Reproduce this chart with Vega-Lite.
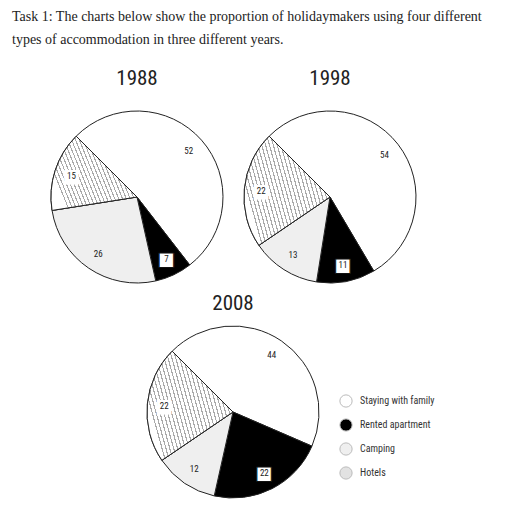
{
  "$schema": "https://vega.github.io/schema/vega-lite/v6.json",
  "padding": {"left": 12, "top": 10, "right": 5, "bottom": 0},
  "title": {
    "text": ["Task 1: The charts below show the proportion of holidaymakers using four different", "types of accommodation in three different years."],
    "anchor": "start",
    "font": "Liberation Serif",
    "fontSize": 14,
    "fontWeight": "normal",
    "lineHeight": 23,
    "color": "#222",
    "offset": 21
  },
  "datasets": {
    "kinds": [
      {"type": "Staying with family", "pos": 1},
      {"type": "Rented apartment", "pos": 2},
      {"type": "Camping", "pos": 3},
      {"type": "Hotels", "pos": 4}
    ]
  },
  "data": {
    "values": [
      {"year": "1988", "type": "Staying with family", "share": 52},
      {"year": "1988", "type": "Rented apartment", "share": 7},
      {"year": "1988", "type": "Camping", "share": 26},
      {"year": "1988", "type": "Hotels", "share": 15},
      {"year": "1998", "type": "Staying with family", "share": 54},
      {"year": "1998", "type": "Rented apartment", "share": 11},
      {"year": "1998", "type": "Camping", "share": 13},
      {"year": "1998", "type": "Hotels", "share": 22},
      {"year": "2008", "type": "Staying with family", "share": 44},
      {"year": "2008", "type": "Rented apartment", "share": 22},
      {"year": "2008", "type": "Camping", "share": 12},
      {"year": "2008", "type": "Hotels", "share": 22}
    ]
  },
  "transform": [
    {"lookup": "type", "from": {"data": {"name": "kinds"}, "key": "type", "fields": ["pos"]}}
  ],
  "vconcat": [
    {
      "spacing": 0,
      "bounds": "flush",
      "hconcat": [
        {
          "width": 250,
          "height": 170,
          "title": "1988",
          "transform": [{"filter": "datum.year == '1988'"}],
          "encoding": {
            "theta": {"field": "share", "type": "quantitative", "stack": true, "scale": {"domain": [0, 100], "range": [-0.7854, 5.4978]}},
            "order": {"field": "pos", "type": "quantitative"},
            "detail": {"field": "type", "type": "nominal"}
          },
          "layer": [
            {
              "mark": {"type": "arc", "outerRadius": 86, "stroke": "#222", "strokeWidth": 1},
              "encoding": {
                "color": {"field": "type", "type": "nominal", "title": null, "sort": ["Staying with family", "Rented apartment", "Camping", "Hotels"], "scale": {"domain": ["Staying with family", "Rented apartment", "Camping", "Hotels"], "range": ["#ffffff", "#000000", "#efefef", "#e2e2e2"]}}
              }
            },
            {
              "mark": {
                "type": "arc", "outerRadius": 86, "stroke": "#222", "strokeWidth": 1,
                "fill": {"gradient": "linear", "x1": 0, "y1": 0.5, "x2": 1, "y2": 0.15, "stops": [
                  {"offset": 0, "color": "#fff"}, {"offset": 0.028, "color": "#fff"}, {"offset": 0.028, "color": "#aaa"}, {"offset": 0.04, "color": "#aaa"},
                  {"offset": 0.04, "color": "#fff"}, {"offset": 0.068, "color": "#fff"}, {"offset": 0.068, "color": "#aaa"}, {"offset": 0.08, "color": "#aaa"},
                  {"offset": 0.08, "color": "#fff"}, {"offset": 0.108, "color": "#fff"}, {"offset": 0.108, "color": "#aaa"}, {"offset": 0.12, "color": "#aaa"},
                  {"offset": 0.12, "color": "#fff"}, {"offset": 0.148, "color": "#fff"}, {"offset": 0.148, "color": "#aaa"}, {"offset": 0.16, "color": "#aaa"},
                  {"offset": 0.16, "color": "#fff"}, {"offset": 0.188, "color": "#fff"}, {"offset": 0.188, "color": "#aaa"}, {"offset": 0.2, "color": "#aaa"},
                  {"offset": 0.2, "color": "#fff"}, {"offset": 0.228, "color": "#fff"}, {"offset": 0.228, "color": "#aaa"}, {"offset": 0.24, "color": "#aaa"},
                  {"offset": 0.24, "color": "#fff"}, {"offset": 0.268, "color": "#fff"}, {"offset": 0.268, "color": "#aaa"}, {"offset": 0.28, "color": "#aaa"},
                  {"offset": 0.28, "color": "#fff"}, {"offset": 0.308, "color": "#fff"}, {"offset": 0.308, "color": "#aaa"}, {"offset": 0.32, "color": "#aaa"},
                  {"offset": 0.32, "color": "#fff"}, {"offset": 0.348, "color": "#fff"}, {"offset": 0.348, "color": "#aaa"}, {"offset": 0.36, "color": "#aaa"},
                  {"offset": 0.36, "color": "#fff"}, {"offset": 0.388, "color": "#fff"}, {"offset": 0.388, "color": "#aaa"}, {"offset": 0.4, "color": "#aaa"},
                  {"offset": 0.4, "color": "#fff"}, {"offset": 0.428, "color": "#fff"}, {"offset": 0.428, "color": "#aaa"}, {"offset": 0.44, "color": "#aaa"},
                  {"offset": 0.44, "color": "#fff"}, {"offset": 0.468, "color": "#fff"}, {"offset": 0.468, "color": "#aaa"}, {"offset": 0.48, "color": "#aaa"},
                  {"offset": 0.48, "color": "#fff"}, {"offset": 0.508, "color": "#fff"}, {"offset": 0.508, "color": "#aaa"}, {"offset": 0.52, "color": "#aaa"},
                  {"offset": 0.52, "color": "#fff"}, {"offset": 0.548, "color": "#fff"}, {"offset": 0.548, "color": "#aaa"}, {"offset": 0.56, "color": "#aaa"},
                  {"offset": 0.56, "color": "#fff"}, {"offset": 0.588, "color": "#fff"}, {"offset": 0.588, "color": "#aaa"}, {"offset": 0.6, "color": "#aaa"},
                  {"offset": 0.6, "color": "#fff"}, {"offset": 0.628, "color": "#fff"}, {"offset": 0.628, "color": "#aaa"}, {"offset": 0.64, "color": "#aaa"},
                  {"offset": 0.64, "color": "#fff"}, {"offset": 0.668, "color": "#fff"}, {"offset": 0.668, "color": "#aaa"}, {"offset": 0.68, "color": "#aaa"},
                  {"offset": 0.68, "color": "#fff"}, {"offset": 0.708, "color": "#fff"}, {"offset": 0.708, "color": "#aaa"}, {"offset": 0.72, "color": "#aaa"},
                  {"offset": 0.72, "color": "#fff"}, {"offset": 0.748, "color": "#fff"}, {"offset": 0.748, "color": "#aaa"}, {"offset": 0.76, "color": "#aaa"},
                  {"offset": 0.76, "color": "#fff"}, {"offset": 0.788, "color": "#fff"}, {"offset": 0.788, "color": "#aaa"}, {"offset": 0.8, "color": "#aaa"},
                  {"offset": 0.8, "color": "#fff"}, {"offset": 0.828, "color": "#fff"}, {"offset": 0.828, "color": "#aaa"}, {"offset": 0.84, "color": "#aaa"},
                  {"offset": 0.84, "color": "#fff"}, {"offset": 0.868, "color": "#fff"}, {"offset": 0.868, "color": "#aaa"}, {"offset": 0.88, "color": "#aaa"},
                  {"offset": 0.88, "color": "#fff"}, {"offset": 0.908, "color": "#fff"}, {"offset": 0.908, "color": "#aaa"}, {"offset": 0.92, "color": "#aaa"},
                  {"offset": 0.92, "color": "#fff"}, {"offset": 0.948, "color": "#fff"}, {"offset": 0.948, "color": "#aaa"}, {"offset": 0.96, "color": "#aaa"},
                  {"offset": 0.96, "color": "#fff"}, {"offset": 0.988, "color": "#fff"}, {"offset": 0.988, "color": "#aaa"}, {"offset": 1, "color": "#aaa"}
                ]}
              },
              "encoding": {
                "opacity": {"condition": {"test": "datum.type == 'Hotels'", "value": 1}, "value": 0}
              }
            },
            {
              "mark": {"type": "text", "radius": 69, "text": "■", "font": "DejaVu Sans", "fontSize": 19, "fill": "#fff", "stroke": "#111", "strokeWidth": 1},
              "encoding": {
                "opacity": {"condition": {"test": "datum.type == 'Rented apartment' || datum.type == 'Hotels'", "value": 1}, "value": 0},
                "strokeOpacity": {"condition": {"test": "datum.type == 'Rented apartment'", "value": 1}, "value": 0}
              }
            },
            {
              "mark": {"type": "text", "radius": 69, "font": "Roboto Condensed, DejaVu Sans Condensed, Roboto", "fontSize": 9, "fill": "#222"},
              "encoding": {
                "text": {"field": "share", "type": "quantitative"}
              }
            }
          ]
        },
        {
          "width": 136,
          "height": 170,
          "title": "1998",
          "transform": [{"filter": "datum.year == '1998'"}],
          "encoding": {
            "theta": {"field": "share", "type": "quantitative", "stack": true, "scale": {"domain": [0, 100], "range": [-0.7854, 5.4978]}},
            "order": {"field": "pos", "type": "quantitative"},
            "detail": {"field": "type", "type": "nominal"}
          },
          "layer": [
            {
              "mark": {"type": "arc", "outerRadius": 86, "stroke": "#222", "strokeWidth": 1},
              "encoding": {
                "color": {"field": "type", "type": "nominal", "title": null, "sort": ["Staying with family", "Rented apartment", "Camping", "Hotels"], "scale": {"domain": ["Staying with family", "Rented apartment", "Camping", "Hotels"], "range": ["#ffffff", "#000000", "#efefef", "#e2e2e2"]}}
              }
            },
            {
              "mark": {
                "type": "arc", "outerRadius": 86, "stroke": "#222", "strokeWidth": 1,
                "fill": {"gradient": "linear", "x1": 0, "y1": 0.5, "x2": 1, "y2": 0.15, "stops": [
                  {"offset": 0, "color": "#fff"}, {"offset": 0.028, "color": "#fff"}, {"offset": 0.028, "color": "#aaa"}, {"offset": 0.04, "color": "#aaa"},
                  {"offset": 0.04, "color": "#fff"}, {"offset": 0.068, "color": "#fff"}, {"offset": 0.068, "color": "#aaa"}, {"offset": 0.08, "color": "#aaa"},
                  {"offset": 0.08, "color": "#fff"}, {"offset": 0.108, "color": "#fff"}, {"offset": 0.108, "color": "#aaa"}, {"offset": 0.12, "color": "#aaa"},
                  {"offset": 0.12, "color": "#fff"}, {"offset": 0.148, "color": "#fff"}, {"offset": 0.148, "color": "#aaa"}, {"offset": 0.16, "color": "#aaa"},
                  {"offset": 0.16, "color": "#fff"}, {"offset": 0.188, "color": "#fff"}, {"offset": 0.188, "color": "#aaa"}, {"offset": 0.2, "color": "#aaa"},
                  {"offset": 0.2, "color": "#fff"}, {"offset": 0.228, "color": "#fff"}, {"offset": 0.228, "color": "#aaa"}, {"offset": 0.24, "color": "#aaa"},
                  {"offset": 0.24, "color": "#fff"}, {"offset": 0.268, "color": "#fff"}, {"offset": 0.268, "color": "#aaa"}, {"offset": 0.28, "color": "#aaa"},
                  {"offset": 0.28, "color": "#fff"}, {"offset": 0.308, "color": "#fff"}, {"offset": 0.308, "color": "#aaa"}, {"offset": 0.32, "color": "#aaa"},
                  {"offset": 0.32, "color": "#fff"}, {"offset": 0.348, "color": "#fff"}, {"offset": 0.348, "color": "#aaa"}, {"offset": 0.36, "color": "#aaa"},
                  {"offset": 0.36, "color": "#fff"}, {"offset": 0.388, "color": "#fff"}, {"offset": 0.388, "color": "#aaa"}, {"offset": 0.4, "color": "#aaa"},
                  {"offset": 0.4, "color": "#fff"}, {"offset": 0.428, "color": "#fff"}, {"offset": 0.428, "color": "#aaa"}, {"offset": 0.44, "color": "#aaa"},
                  {"offset": 0.44, "color": "#fff"}, {"offset": 0.468, "color": "#fff"}, {"offset": 0.468, "color": "#aaa"}, {"offset": 0.48, "color": "#aaa"},
                  {"offset": 0.48, "color": "#fff"}, {"offset": 0.508, "color": "#fff"}, {"offset": 0.508, "color": "#aaa"}, {"offset": 0.52, "color": "#aaa"},
                  {"offset": 0.52, "color": "#fff"}, {"offset": 0.548, "color": "#fff"}, {"offset": 0.548, "color": "#aaa"}, {"offset": 0.56, "color": "#aaa"},
                  {"offset": 0.56, "color": "#fff"}, {"offset": 0.588, "color": "#fff"}, {"offset": 0.588, "color": "#aaa"}, {"offset": 0.6, "color": "#aaa"},
                  {"offset": 0.6, "color": "#fff"}, {"offset": 0.628, "color": "#fff"}, {"offset": 0.628, "color": "#aaa"}, {"offset": 0.64, "color": "#aaa"},
                  {"offset": 0.64, "color": "#fff"}, {"offset": 0.668, "color": "#fff"}, {"offset": 0.668, "color": "#aaa"}, {"offset": 0.68, "color": "#aaa"},
                  {"offset": 0.68, "color": "#fff"}, {"offset": 0.708, "color": "#fff"}, {"offset": 0.708, "color": "#aaa"}, {"offset": 0.72, "color": "#aaa"},
                  {"offset": 0.72, "color": "#fff"}, {"offset": 0.748, "color": "#fff"}, {"offset": 0.748, "color": "#aaa"}, {"offset": 0.76, "color": "#aaa"},
                  {"offset": 0.76, "color": "#fff"}, {"offset": 0.788, "color": "#fff"}, {"offset": 0.788, "color": "#aaa"}, {"offset": 0.8, "color": "#aaa"},
                  {"offset": 0.8, "color": "#fff"}, {"offset": 0.828, "color": "#fff"}, {"offset": 0.828, "color": "#aaa"}, {"offset": 0.84, "color": "#aaa"},
                  {"offset": 0.84, "color": "#fff"}, {"offset": 0.868, "color": "#fff"}, {"offset": 0.868, "color": "#aaa"}, {"offset": 0.88, "color": "#aaa"},
                  {"offset": 0.88, "color": "#fff"}, {"offset": 0.908, "color": "#fff"}, {"offset": 0.908, "color": "#aaa"}, {"offset": 0.92, "color": "#aaa"},
                  {"offset": 0.92, "color": "#fff"}, {"offset": 0.948, "color": "#fff"}, {"offset": 0.948, "color": "#aaa"}, {"offset": 0.96, "color": "#aaa"},
                  {"offset": 0.96, "color": "#fff"}, {"offset": 0.988, "color": "#fff"}, {"offset": 0.988, "color": "#aaa"}, {"offset": 1, "color": "#aaa"}
                ]}
              },
              "encoding": {
                "opacity": {"condition": {"test": "datum.type == 'Hotels'", "value": 1}, "value": 0}
              }
            },
            {
              "mark": {"type": "text", "radius": 69, "text": "■", "font": "DejaVu Sans", "fontSize": 19, "fill": "#fff", "stroke": "#111", "strokeWidth": 1},
              "encoding": {
                "opacity": {"condition": {"test": "datum.type == 'Rented apartment' || datum.type == 'Hotels'", "value": 1}, "value": 0},
                "strokeOpacity": {"condition": {"test": "datum.type == 'Rented apartment'", "value": 1}, "value": 0}
              }
            },
            {
              "mark": {"type": "text", "radius": 69, "font": "Roboto Condensed, DejaVu Sans Condensed, Roboto", "fontSize": 9, "fill": "#222"},
              "encoding": {
                "text": {"field": "share", "type": "quantitative"}
              }
            }
          ]
        }
      ]
    },
    {
      "width": 442,
      "height": 170,
      "title": {"text": "2008", "offset": 10},
      "transform": [{"filter": "datum.year == '2008'"}],
      "encoding": {
        "theta": {"field": "share", "type": "quantitative", "stack": true, "scale": {"domain": [0, 100], "range": [-0.7854, 5.4978]}},
        "order": {"field": "pos", "type": "quantitative"},
        "detail": {"field": "type", "type": "nominal"}
      },
      "layer": [
        {
          "mark": {"type": "arc", "outerRadius": 86, "stroke": "#222", "strokeWidth": 1},
          "encoding": {
            "color": {
              "field": "type", "type": "nominal", "title": null,
              "sort": ["Staying with family", "Rented apartment", "Camping", "Hotels"],
              "scale": {"domain": ["Staying with family", "Rented apartment", "Camping", "Hotels"], "range": ["#ffffff", "#000000", "#efefef", "#e2e2e2"]},
              "legend": {"orient": "none", "legendX": 327, "legendY": 282}
            }
          }
        },
        {
          "mark": {
            "type": "arc", "outerRadius": 86, "stroke": "#222", "strokeWidth": 1,
            "fill": {"gradient": "linear", "x1": 0, "y1": 0.5, "x2": 1, "y2": 0.15, "stops": [
              {"offset": 0, "color": "#fff"}, {"offset": 0.028, "color": "#fff"}, {"offset": 0.028, "color": "#aaa"}, {"offset": 0.04, "color": "#aaa"},
              {"offset": 0.04, "color": "#fff"}, {"offset": 0.068, "color": "#fff"}, {"offset": 0.068, "color": "#aaa"}, {"offset": 0.08, "color": "#aaa"},
              {"offset": 0.08, "color": "#fff"}, {"offset": 0.108, "color": "#fff"}, {"offset": 0.108, "color": "#aaa"}, {"offset": 0.12, "color": "#aaa"},
              {"offset": 0.12, "color": "#fff"}, {"offset": 0.148, "color": "#fff"}, {"offset": 0.148, "color": "#aaa"}, {"offset": 0.16, "color": "#aaa"},
              {"offset": 0.16, "color": "#fff"}, {"offset": 0.188, "color": "#fff"}, {"offset": 0.188, "color": "#aaa"}, {"offset": 0.2, "color": "#aaa"},
              {"offset": 0.2, "color": "#fff"}, {"offset": 0.228, "color": "#fff"}, {"offset": 0.228, "color": "#aaa"}, {"offset": 0.24, "color": "#aaa"},
              {"offset": 0.24, "color": "#fff"}, {"offset": 0.268, "color": "#fff"}, {"offset": 0.268, "color": "#aaa"}, {"offset": 0.28, "color": "#aaa"},
              {"offset": 0.28, "color": "#fff"}, {"offset": 0.308, "color": "#fff"}, {"offset": 0.308, "color": "#aaa"}, {"offset": 0.32, "color": "#aaa"},
              {"offset": 0.32, "color": "#fff"}, {"offset": 0.348, "color": "#fff"}, {"offset": 0.348, "color": "#aaa"}, {"offset": 0.36, "color": "#aaa"},
              {"offset": 0.36, "color": "#fff"}, {"offset": 0.388, "color": "#fff"}, {"offset": 0.388, "color": "#aaa"}, {"offset": 0.4, "color": "#aaa"},
              {"offset": 0.4, "color": "#fff"}, {"offset": 0.428, "color": "#fff"}, {"offset": 0.428, "color": "#aaa"}, {"offset": 0.44, "color": "#aaa"},
              {"offset": 0.44, "color": "#fff"}, {"offset": 0.468, "color": "#fff"}, {"offset": 0.468, "color": "#aaa"}, {"offset": 0.48, "color": "#aaa"},
              {"offset": 0.48, "color": "#fff"}, {"offset": 0.508, "color": "#fff"}, {"offset": 0.508, "color": "#aaa"}, {"offset": 0.52, "color": "#aaa"},
              {"offset": 0.52, "color": "#fff"}, {"offset": 0.548, "color": "#fff"}, {"offset": 0.548, "color": "#aaa"}, {"offset": 0.56, "color": "#aaa"},
              {"offset": 0.56, "color": "#fff"}, {"offset": 0.588, "color": "#fff"}, {"offset": 0.588, "color": "#aaa"}, {"offset": 0.6, "color": "#aaa"},
              {"offset": 0.6, "color": "#fff"}, {"offset": 0.628, "color": "#fff"}, {"offset": 0.628, "color": "#aaa"}, {"offset": 0.64, "color": "#aaa"},
              {"offset": 0.64, "color": "#fff"}, {"offset": 0.668, "color": "#fff"}, {"offset": 0.668, "color": "#aaa"}, {"offset": 0.68, "color": "#aaa"},
              {"offset": 0.68, "color": "#fff"}, {"offset": 0.708, "color": "#fff"}, {"offset": 0.708, "color": "#aaa"}, {"offset": 0.72, "color": "#aaa"},
              {"offset": 0.72, "color": "#fff"}, {"offset": 0.748, "color": "#fff"}, {"offset": 0.748, "color": "#aaa"}, {"offset": 0.76, "color": "#aaa"},
              {"offset": 0.76, "color": "#fff"}, {"offset": 0.788, "color": "#fff"}, {"offset": 0.788, "color": "#aaa"}, {"offset": 0.8, "color": "#aaa"},
              {"offset": 0.8, "color": "#fff"}, {"offset": 0.828, "color": "#fff"}, {"offset": 0.828, "color": "#aaa"}, {"offset": 0.84, "color": "#aaa"},
              {"offset": 0.84, "color": "#fff"}, {"offset": 0.868, "color": "#fff"}, {"offset": 0.868, "color": "#aaa"}, {"offset": 0.88, "color": "#aaa"},
              {"offset": 0.88, "color": "#fff"}, {"offset": 0.908, "color": "#fff"}, {"offset": 0.908, "color": "#aaa"}, {"offset": 0.92, "color": "#aaa"},
              {"offset": 0.92, "color": "#fff"}, {"offset": 0.948, "color": "#fff"}, {"offset": 0.948, "color": "#aaa"}, {"offset": 0.96, "color": "#aaa"},
              {"offset": 0.96, "color": "#fff"}, {"offset": 0.988, "color": "#fff"}, {"offset": 0.988, "color": "#aaa"}, {"offset": 1, "color": "#aaa"}
            ]}
          },
          "encoding": {
            "opacity": {"condition": {"test": "datum.type == 'Hotels'", "value": 1}, "value": 0}
          }
        },
        {
          "mark": {"type": "text", "radius": 69, "text": "■", "font": "DejaVu Sans", "fontSize": 19, "fill": "#fff", "stroke": "#111", "strokeWidth": 1},
          "encoding": {
            "opacity": {"condition": {"test": "datum.type == 'Rented apartment' || datum.type == 'Hotels'", "value": 1}, "value": 0},
            "strokeOpacity": {"condition": {"test": "datum.type == 'Rented apartment'", "value": 1}, "value": 0}
          }
        },
        {
          "mark": {"type": "text", "radius": 69, "font": "Roboto Condensed, DejaVu Sans Condensed, Roboto", "fontSize": 9, "fill": "#222"},
          "encoding": {
            "text": {"field": "share", "type": "quantitative"}
          }
        }
      ]
    }
  ],
  "spacing": 8,
  "config": {
    "view": {"stroke": null},
    "title": {"font": "Roboto Condensed, DejaVu Sans Condensed, Roboto", "fontSize": 21, "fontWeight": "normal", "color": "#222", "offset": 20},
    "legend": {
      "symbolType": "circle",
      "symbolSize": 150,
      "symbolStrokeColor": "#bbb",
      "symbolStrokeWidth": 1,
      "rowPadding": 6,
      "labelFont": "Roboto Condensed, DejaVu Sans Condensed, Roboto",
      "labelFontSize": 10,
      "labelColor": "#333",
      "labelOffset": 7
    }
  }
}
